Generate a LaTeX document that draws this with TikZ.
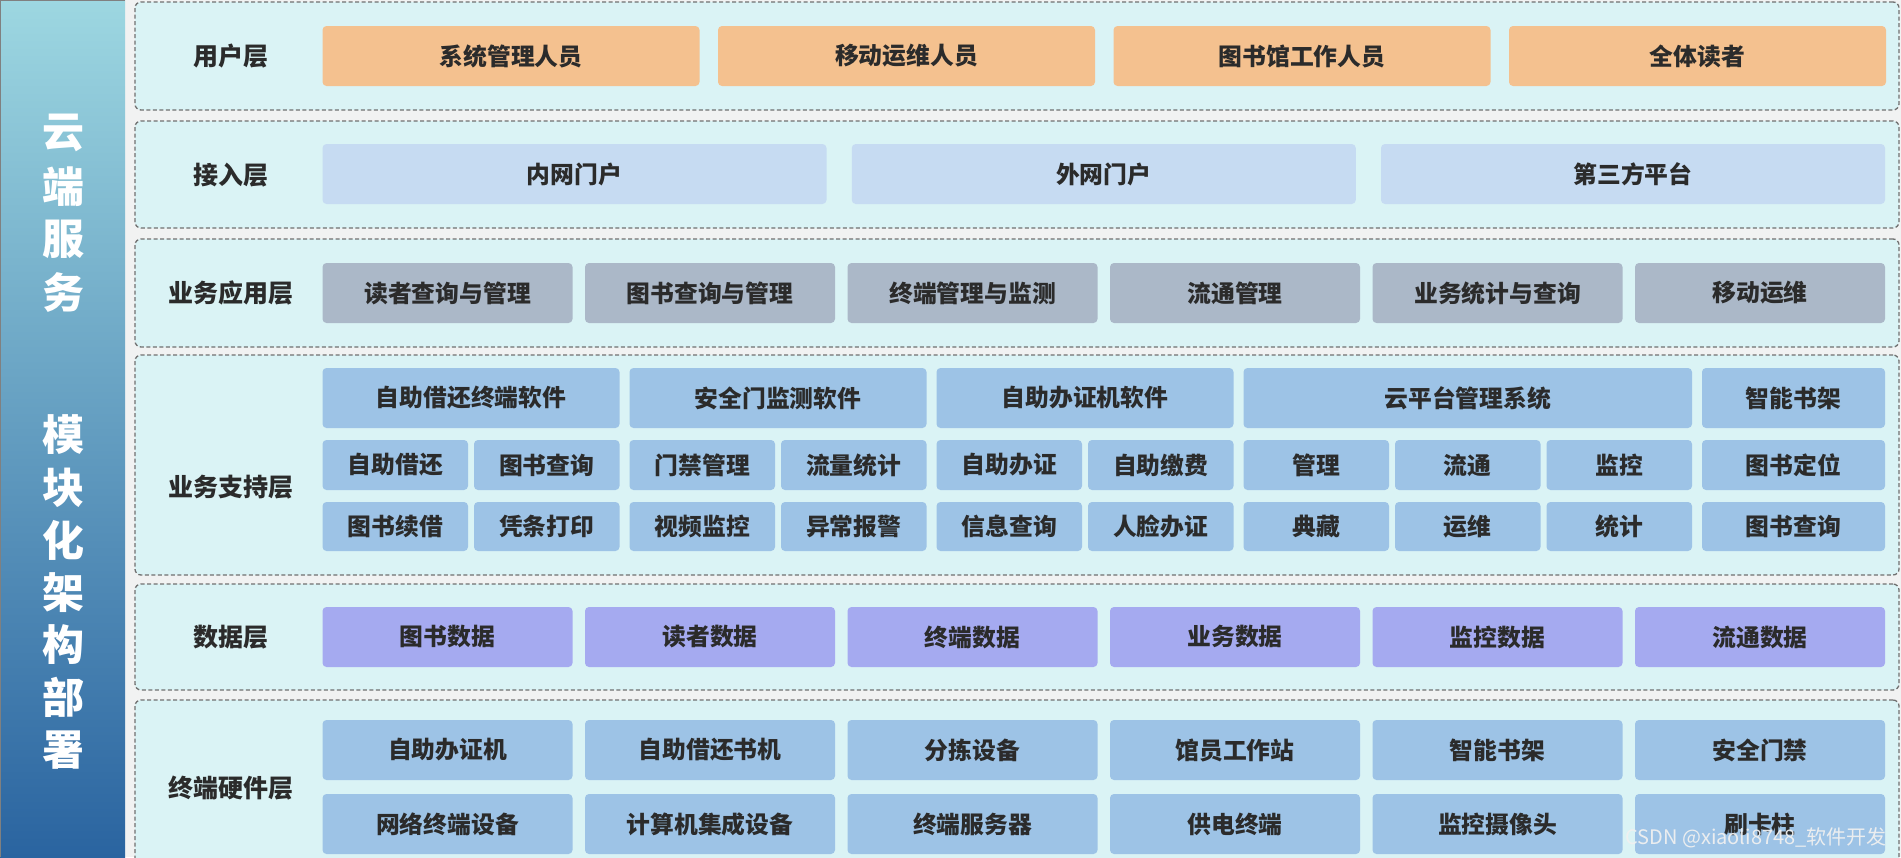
\documentclass[tikz,border=0pt]{standalone}
\usepackage{fontspec}
\setmainfont{Noto Sans CJK SC}
\definecolor{pagebg}{HTML}{F1F2F2}
\definecolor{layerbg}{HTML}{DAF3F5}
\definecolor{dashc}{HTML}{707070}
\definecolor{txt}{HTML}{2B2B2B}
\definecolor{orangec}{HTML}{F4C18F}
\definecolor{portalc}{HTML}{C6DBF2}
\definecolor{appc}{HTML}{ABB8C8}
\definecolor{bluec}{HTML}{9DC3E6}
\definecolor{datac}{HTML}{A5AAF0}
\definecolor{sidetop}{HTML}{9DD7E1}
\definecolor{sidebot}{HTML}{2A64A0}
\newcommand\mkcell[7]{%
  \pgfmathsetmacro\cw{#4-#2}%
  \pgfmathsetmacro\ch{#5-#3}%
  \pgfmathsetmacro\cx{(#2+#4)/2}%
  \pgfmathsetmacro\cy{(#3+#5)/2}%
  \node[cellbox,fill=#6,minimum width=\cw pt,minimum height=\ch pt] (#1) at (\cx,\cy) {#7};}
\newcommand\mklayer[3]{%
  \pgfmathsetmacro\ch{#3-#2}%
  \pgfmathsetmacro\cy{(#2+#3)/2}%
  \node[layerbox,minimum height=\ch pt] (#1) at (1017,\cy) {};}
\begin{document}
\begin{tikzpicture}[x=1pt,y=-1pt,
  cellbox/.style={draw=none,rounded corners=4pt,inner sep=0pt,text=txt,
    font=\bfseries\fontsize{23.8}{28}\selectfont},
  layerbox/.style={draw=dashc,fill=layerbg,line width=1.3pt,dash pattern=on 4pt off 2.5pt,
    rounded corners=6pt,minimum width=1764pt,inner sep=0pt},
  lab/.style={text=txt,inner sep=0pt,font=\bfseries\fontsize{25}{30}\selectfont},
  sidetxt/.style={text=white,inner sep=0pt,font=\bfseries\fontsize{42}{50}\selectfont}]
\useasboundingbox (0,0) rectangle (1901,857);
\clip (0,0) rectangle (1901,857);
\fill[pagebg] (0,0) rectangle (1901,857);
% sidebar
\shade[top color=sidetop,bottom color=sidebot] (0,0) rectangle (125,857);
\draw[gray,line width=1pt] (0.5,857) -- (0.5,0.5) -- (125,0.5);
\foreach \c [count=\k] in {云,端,服,务}
  \node[sidetxt] (s\k) at (63,{133+(\k-1)*53.3}) {\c};
\foreach \c [count=\k] in {模,块,化,架,构,部,署}
  \node[sidetxt] (m\k) at (63,{435+(\k-1)*52.5}) {\c};
% layers
\mklayer{L1}{2}{110}
\mklayer{L2}{121}{228}
\mklayer{L3}{239}{347}
\mklayer{L4}{355}{575}
\mklayer{L5}{584}{690}
\mklayer{L6}{700}{900}
\node[lab] (lab1) at (231,56) {用户层};
\node[lab] (lab2) at (231,175) {接入层};
\node[lab] (lab3) at (231,293) {业务应用层};
\node[lab] (lab4) at (231,487) {业务支持层};
\node[lab] (lab5) at (231,637) {数据层};
\node[lab] (lab6) at (231,788) {终端硬件层};
% user layer
\foreach \t [count=\i from 0] in {系统管理人员,移动运维人员,图书馆工作人员,全体读者}{
  \pgfmathsetmacro\xa{322.5+\i*395.5}\pgfmathsetmacro\xb{\xa+377}
  \mkcell{u\i}{\xa}{26}{\xb}{86}{orangec}{\t}}
% access layer
\foreach \t [count=\i from 0] in {内网门户,外网门户,第三方平台}{
  \pgfmathsetmacro\xa{322.5+\i*529.25}\pgfmathsetmacro\xb{\xa+504}
  \mkcell{a\i}{\xa}{144}{\xb}{204}{portalc}{\t}}
% application layer
\foreach \t [count=\i from 0] in {读者查询与管理,图书查询与管理,终端管理与监测,流通管理,业务统计与查询,移动运维}{
  \pgfmathsetmacro\xa{322.5+\i*262.5}\pgfmathsetmacro\xb{\xa+250}
  \mkcell{p\i}{\xa}{263}{\xb}{323}{appc}{\t}}
% support layer row 1
\foreach \xa/\xb/\t [count=\i] in {322.5/619.5/自助借还终端软件,629.5/926.5/安全门监测软件,936.5/1233.5/自助办证机软件,1243.5/1692/云平台管理系统,1702/1885/智能书架}
  \mkcell{r\i}{\xa}{368}{\xb}{428}{bluec}{\t};
% support layer rows 2 and 3
\foreach \xa/\xb/\t/\s [count=\i] in {322.5/468/自助借还/图书续借,474/619.5/图书查询/凭条打印,629.5/775/门禁管理/视频监控,781/926.5/流量统计/异常报警,936.5/1082/自助办证/信息查询,1088/1233.5/自助缴费/人脸办证,1243.5/1389/管理/典藏,1395/1540.5/流通/运维,1546.5/1692/监控/统计,1702/1885/图书定位/图书查询}{
  \mkcell{q\i}{\xa}{440}{\xb}{490}{bluec}{\t}
  \mkcell{t\i}{\xa}{502}{\xb}{551}{bluec}{\s}}
% data layer
\foreach \t [count=\i from 0] in {图书数据,读者数据,终端数据,业务数据,监控数据,流通数据}{
  \pgfmathsetmacro\xa{322.5+\i*262.5}\pgfmathsetmacro\xb{\xa+250}
  \mkcell{d\i}{\xa}{607}{\xb}{667}{datac}{\t}}
% hardware layer
\foreach \t/\s [count=\i from 0] in {自助办证机/网络终端设备,自助借还书机/计算机集成设备,分拣设备/终端服务器,馆员工作站/供电终端,智能书架/监控摄像头,安全门禁/刷卡柱}{
  \pgfmathsetmacro\xa{322.5+\i*262.5}\pgfmathsetmacro\xb{\xa+250}
  \mkcell{h\i}{\xa}{720}{\xb}{780}{bluec}{\t}
  \mkcell{g\i}{\xa}{794}{\xb}{854}{bluec}{\s}}
% watermark
\node[text=white!88!gray,opacity=0.95,inner sep=0pt,font=\fontsize{20}{24}\selectfont] (wm) at (1756,838) {CSDN @xiaoli8748\_软件开发};
\end{tikzpicture}
\end{document}
